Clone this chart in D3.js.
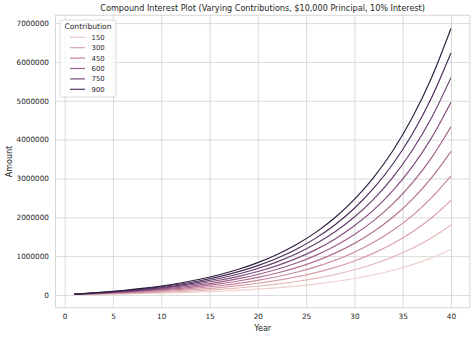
<!DOCTYPE html>
<html>
<head>
<meta charset="utf-8">
<script src="https://cdn.jsdelivr.net/npm/d3@7"></script>
<style>
  body { margin: 0; background: #fff; }
  text { font-family: "DejaVu Sans", sans-serif; fill: #262626; }
</style>
</head>
<body>
<div id="chart"></div>
<script>
var years = [1, 2, 4, 6, 8, 10, 12, 14, 16, 18, 20, 22, 24, 26, 28, 30, 32, 34, 36, 38, 40];

// monthly contribution of every line
var contributions = [100, 200, 300, 400, 500, 600, 700, 800, 900, 1000];

// amount for each contribution, one value per year above
var amount100  = [12300, 14800, 20800, 28000, 36800, 47600, 60700, 76700, 96200, 120100, 149200, 184700, 228100, 281000, 345600, 424400, 520600, 638000, 781200, 956100, 1169400];
var amount200  = [13600, 17500, 26600, 37800, 51400, 68000, 88300, 113100, 143300, 180200, 225100, 280100, 347100, 428900, 528700, 650500, 799100, 980500, 1201900, 1472100, 1801800];
var amount300  = [14800, 20100, 32500, 47600, 66000, 88500, 115900, 149500, 190300, 240200, 301100, 375400, 466000, 576700, 711700, 876500, 1077600, 1323100, 1622600, 1988100, 2434200];
var amount400  = [16100, 22800, 38400, 57400, 80700, 109000, 143600, 185800, 237400, 300300, 377000, 470700, 585000, 724500, 894800, 1102600, 1356100, 1665600, 2043200, 2504100, 3066600];
var amount500  = [17300, 25400, 44300, 67200, 95300, 129500, 171200, 222200, 284400, 360300, 453000, 566000, 704000, 872300, 1077900, 1328600, 1634600, 2008100, 2463900, 3020200, 3699000];
var amount600  = [18600, 28100, 50100, 77000, 109900, 150000, 198900, 258600, 331500, 420400, 528900, 661300, 822900, 1020200, 1260900, 1554700, 1913200, 2350700, 2884600, 3536200, 4331300];
var amount700  = [19800, 30700, 56000, 86900, 124500, 170500, 226500, 295000, 378500, 480400, 604800, 756600, 941900, 1168000, 1444000, 1780700, 2191700, 2693200, 3305300, 4052200, 4963700];
var amount800  = [21100, 33400, 61900, 96700, 139100, 191000, 254200, 331400, 425500, 540500, 680800, 852000, 1060900, 1315800, 1627000, 2006800, 2470200, 3035800, 3725900, 4568300, 5596100];
var amount900  = [22400, 36000, 67700, 106500, 153700, 211400, 281800, 367700, 472600, 600500, 756700, 947300, 1179900, 1463700, 1810100, 2232800, 2748700, 3378300, 4146600, 5084300, 6228500];
var amount1000 = [23600, 38600, 73600, 116300, 168400, 231900, 309400, 404100, 519600, 660600, 832600, 1042600, 1298800, 1611500, 1993200, 2458900, 3027200, 3720800, 4567300, 5600300, 6860900];

// tick labels and legend entries
var xTicks = [0, 5, 10, 15, 20, 25, 30, 35, 40];
var yTicks = [0, 1000000, 2000000, 3000000, 4000000, 5000000, 6000000, 7000000];
var legendValues = [150, 300, 450, 600, 750, 900];

var allAmounts = [amount100, amount200, amount300, amount400, amount500, amount600, amount700, amount800, amount900, amount1000];

// build one row per line
var series = contributions.map(function(c, i) {
  return {
    contribution: c,
    values: years.map(function(y, j) { return { year: y, amount: allAmounts[i][j] }; })
  };
});

var totalWidth = 474, totalHeight = 337;
var margin = { left: 55.5, right: 4.2, top: 15.2, bottom: 29.2 };
var width = totalWidth - margin.left - margin.right;
var height = totalHeight - margin.top - margin.bottom;

// seaborn "ch:" palette (matplotlib cubehelix, start 0, rot .4, light .85, dark .15)
function cubehelix(x) {
  var xg = x;
  var a = 0.8 * xg * (1 - xg) / 2;
  var phi = 2 * Math.PI * (0 / 3 + 0.4 * x);
  function chan(p0, p1) {
    var v = xg + a * (p0 * Math.cos(phi) + p1 * Math.sin(phi));
    return Math.max(0, Math.min(1, v)) * 255;
  }
  return d3.rgb(chan(-0.14861, 1.78277), chan(-0.29227, -0.90649), chan(1.97294, 0)).toString();
}
var hue = d3.scaleLinear().domain([100, 1000]).range([0.85, 0.15]);
function colorOf(c) { return cubehelix(hue(c)); }

var svg = d3.select("#chart").append("svg")
    .attr("width", totalWidth)
    .attr("height", totalHeight);

var g = svg.append("g").attr("transform", "translate(" + [margin.left, margin.top] + ")");

// x runs 1..40 with matplotlib's 5% padding
var xScale = d3.scaleLinear()
    .domain([1 - 0.05 * 39, 40 + 0.05 * 39])
    .range([0, width]);

var yMin = 12300, yMax = 6860900, pad = 0.05 * (yMax - yMin);
var yScale = d3.scaleLinear()
    .domain([yMin - pad, yMax + pad])
    .range([height, 0]);

// grid + y labels
var yAxis = d3.axisLeft(yScale)
    .tickValues(yTicks)
    .tickFormat(d3.format("d"))
    .tickSizeInner(-width)
    .tickSizeOuter(0)
    .tickPadding(6.5);
g.append("g")
    .attr("class", "axis")
    .call(yAxis)
    .call(function(s) {
      s.select(".domain").remove();
      s.selectAll("line").attr("stroke", "#cccccc").attr("stroke-width", 0.7);
      s.selectAll("text").style("font-size", "7.3px").attr("fill", "#262626");
    });

// grid + x labels
var xAxis = d3.axisBottom(xScale)
    .tickValues(xTicks)
    .tickSizeInner(-height)
    .tickSizeOuter(0)
    .tickPadding(6.5);
g.append("g")
    .attr("class", "axis")
    .attr("transform", "translate(0," + height + ")")
    .call(xAxis)
    .call(function(s) {
      s.select(".domain").remove();
      s.selectAll("line").attr("stroke", "#cccccc").attr("stroke-width", 0.7);
      s.selectAll("text").style("font-size", "7.3px").attr("fill", "#262626");
    });

// spines
g.append("rect")
    .attr("width", width)
    .attr("height", height)
    .attr("fill", "none")
    .attr("stroke", "#cccccc")
    .attr("stroke-width", 0.8);

// lines
var line = d3.line()
    .x(function(d) { return xScale(d.year); })
    .y(function(d) { return yScale(d.amount); })
    .curve(d3.curveMonotoneX);

g.selectAll(".series")
    .data(series)
    .enter()
    .append("path")
    .attr("class", "series")
    .attr("fill", "none")
    .attr("stroke", function(d) { return colorOf(d.contribution); })
    .attr("stroke-width", 1.15)
    .attr("d", function(d) { return line(d.values); });

// title
svg.append("text")
    .attr("x", margin.left + width / 2)
    .attr("y", 11)
    .attr("text-anchor", "middle")
    .style("font-size", "8.1px")
    .text("Compound Interest Plot (Varying Contributions, $10,000 Principal, 10% Interest)");

// axis labels
svg.append("text")
    .attr("x", margin.left + width / 2)
    .attr("y", 330.5)
    .attr("text-anchor", "middle")
    .style("font-size", "8px")
    .text("Year");

svg.append("text")
    .attr("text-anchor", "middle")
    .attr("transform", "translate(" + [11.5, margin.top + height / 2] + ") rotate(-90)")
    .style("font-size", "8px")
    .text("Amount");

// legend
var legend = svg.append("g").attr("transform", "translate(60,20)");
legend.append("rect")
    .attr("width", 56)
    .attr("height", 77)
    .attr("rx", 2)
    .attr("fill", "#ffffff")
    .attr("fill-opacity", 0.8)
    .attr("stroke", "#cccccc")
    .attr("stroke-width", 0.7);
legend.append("text")
    .attr("x", 28)
    .attr("y", 8.6)
    .attr("text-anchor", "middle")
    .style("font-size", "7.6px")
    .text("Contribution");

var items = legend.selectAll(".legend")
    .data(legendValues)
    .enter()
    .append("g")
    .attr("class", "legend")
    .attr("transform", function(d, i) { return "translate(0," + (17.3 + i * 10.4) + ")"; });

items.append("line")
    .attr("x1", 10)
    .attr("x2", 25)
    .attr("stroke", function(d) { return colorOf(d); })
    .attr("stroke-width", 1.15);

items.append("text")
    .attr("x", 31.5)
    .attr("y", 2.4)
    .style("font-size", "6.9px")
    .text(function(d) { return d; });
</script>
</body>
</html>
